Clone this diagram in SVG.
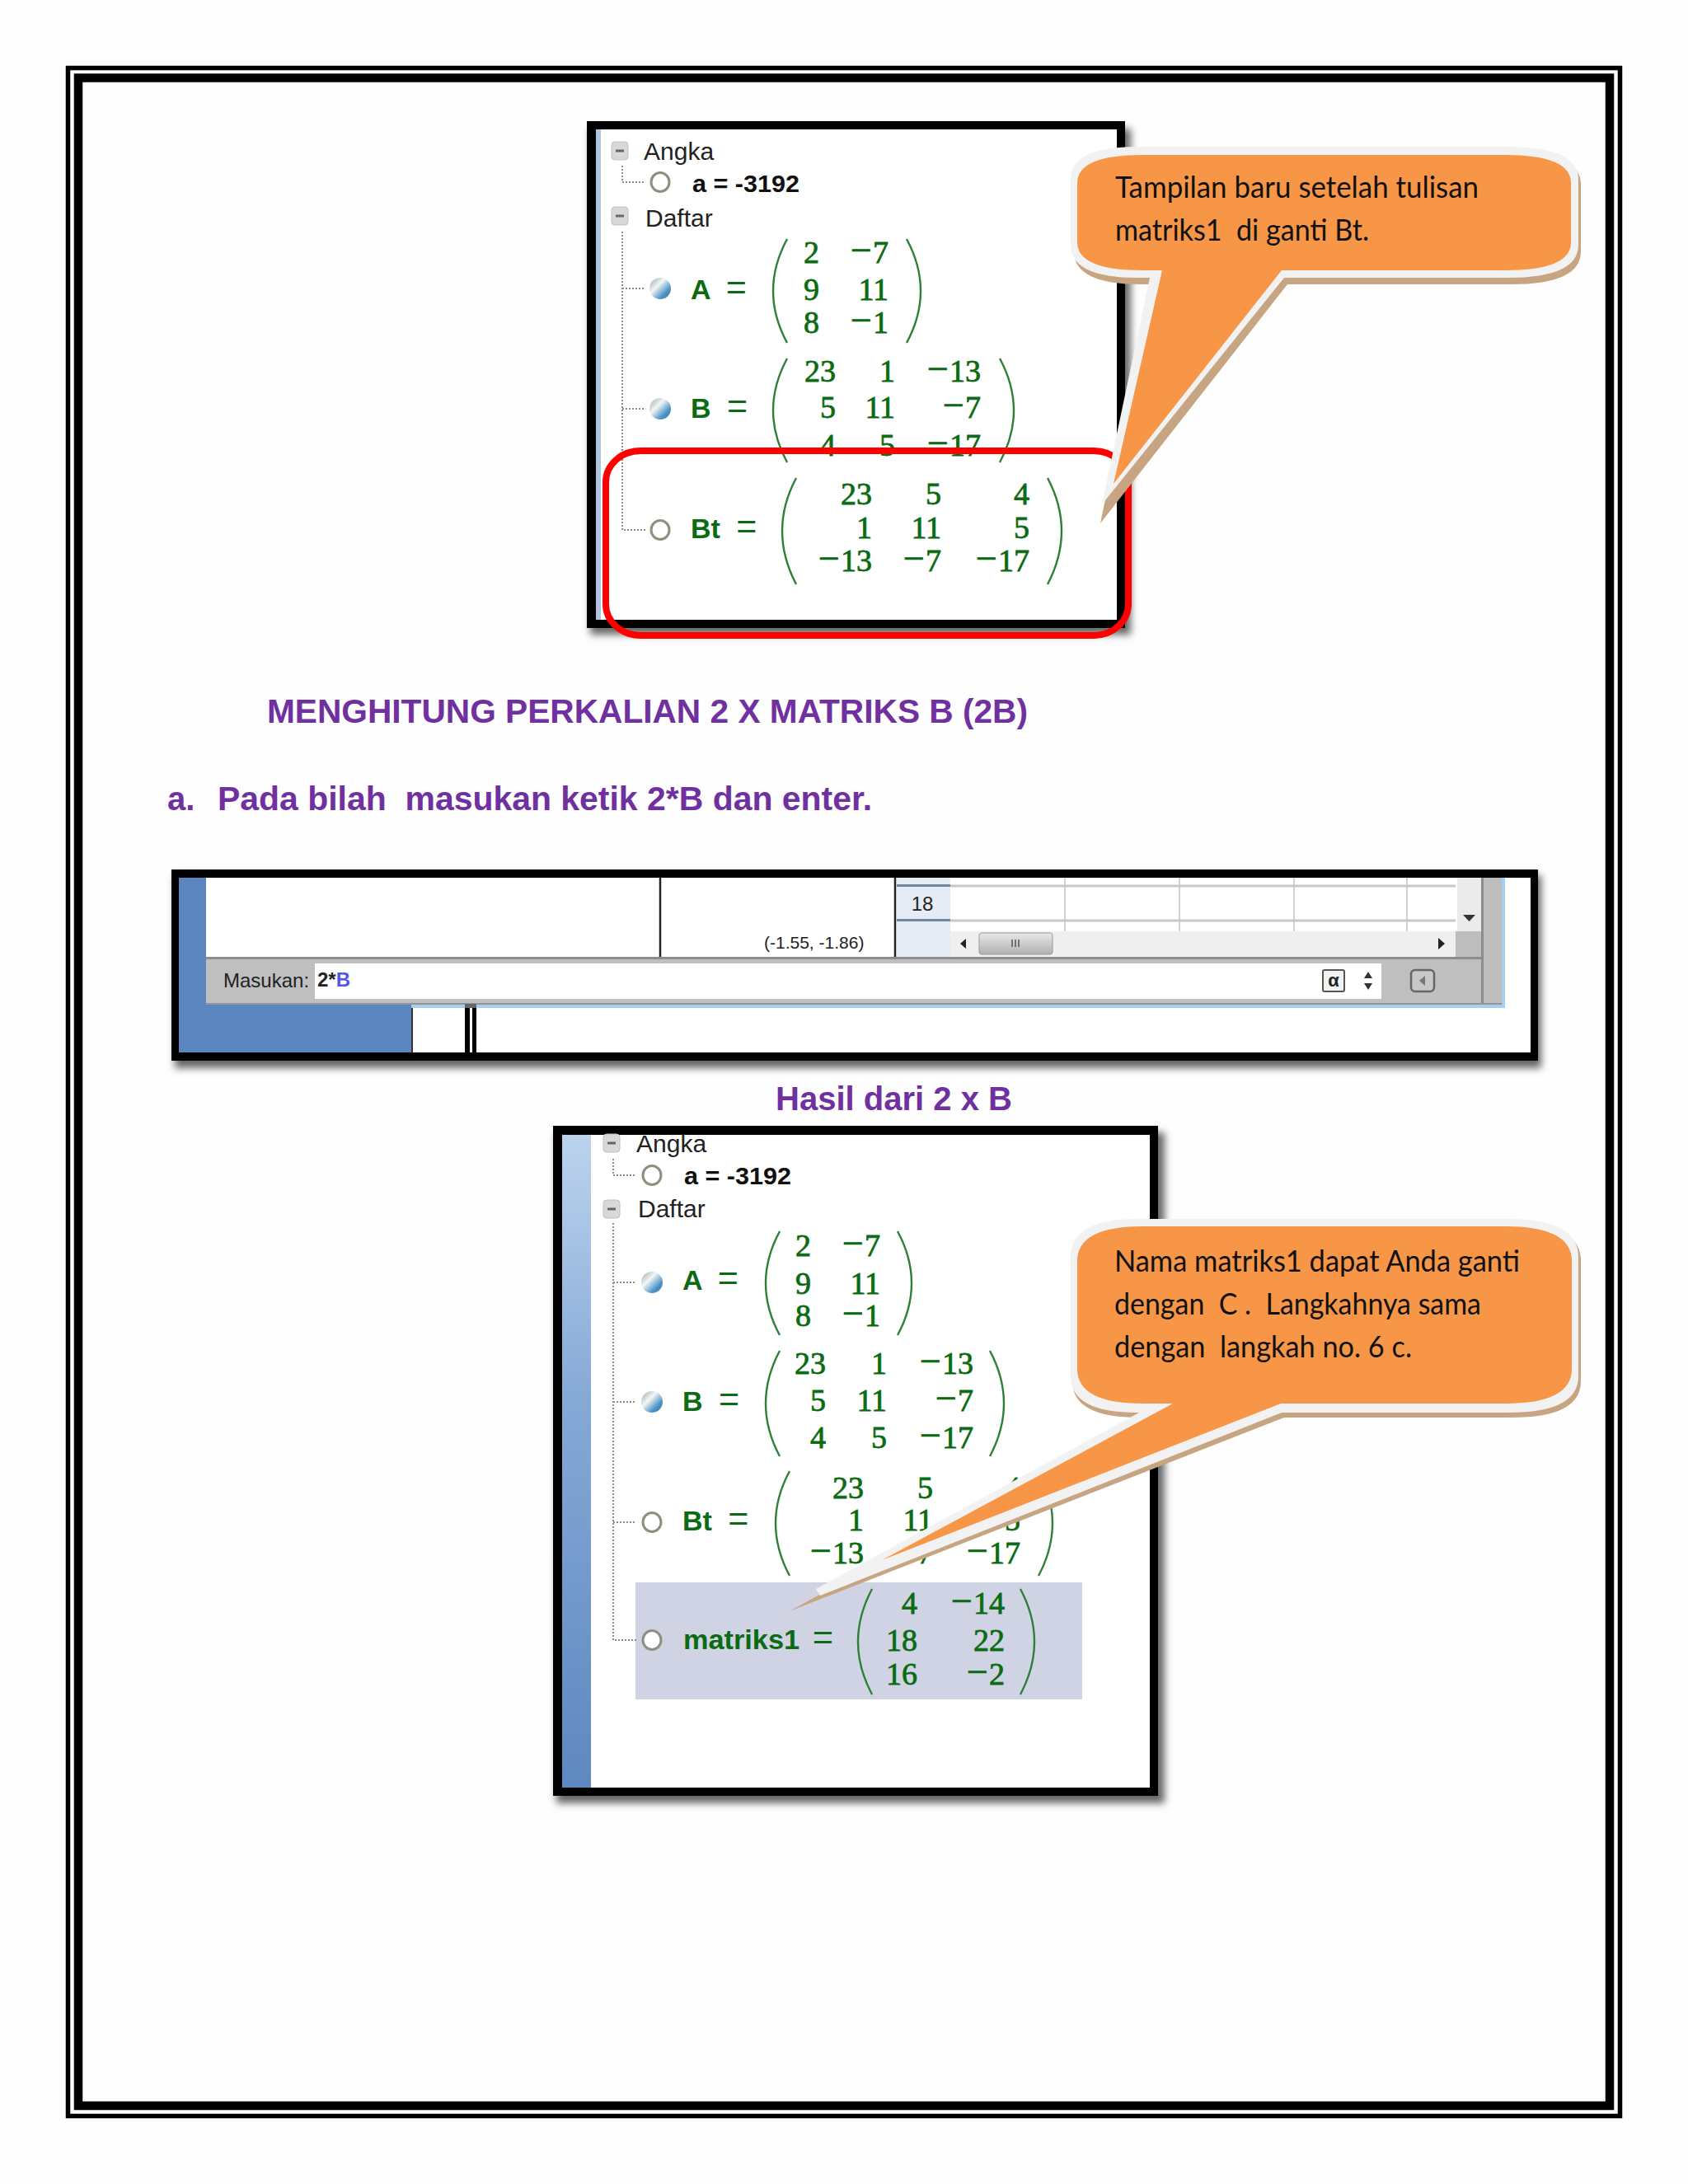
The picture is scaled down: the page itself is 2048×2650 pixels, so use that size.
<svg xmlns="http://www.w3.org/2000/svg" width="2048" height="2650" viewBox="0 0 2048 2650">
<style>
.ui{font-family:"Liberation Sans",Arial,sans-serif;fill:#222}
.tree{font-size:30px}
.val{font-size:30px;font-weight:bold;fill:#111}
.m{font-family:"Liberation Serif","Times New Roman",serif;font-size:38px;fill:#0b6b12;stroke:#0b6b12;stroke-width:.8;text-anchor:end}
.mn{font-size:46px;letter-spacing:1px}
.lab{font-family:"Liberation Sans",Arial,sans-serif;font-size:34px;font-weight:bold;fill:#0b6b12;word-spacing:10px}
.eq{font-weight:normal;font-size:43px}
.p{fill:none;stroke:#2f7f3a;stroke-width:2.4}
.dot{fill:none;stroke:#8a8a8a;stroke-width:2;stroke-dasharray:2 2}
.head{font-family:"Liberation Sans",Arial,sans-serif;font-size:40px;font-weight:bold;fill:#7030a0}
.call{font-family:Lato,"Open Sans",sans-serif;font-size:36px;fill:#111;white-space:pre}
.orange{fill:#f79646}.white{fill:#f2f2f2}.tan{fill:#c8a582}
.frame{fill:none;stroke:#000}
.shadow{fill:#666;filter:url(#blur)}
</style>
<defs>
<filter id="blur" x="-5%" y="-5%" width="110%" height="110%"><feGaussianBlur stdDeviation="5"/></filter>
<linearGradient id="sph" x1="0" y1="0" x2="1" y2="1"><stop offset="0" stop-color="#8fa5a8"/><stop offset=".38" stop-color="#f4f7f5"/><stop offset=".72" stop-color="#4f95c8"/><stop offset="1" stop-color="#3a6f90"/></linearGradient>
<linearGradient id="strip" x1="0" y1="0" x2="0" y2="1"><stop offset="0" stop-color="#bcd3ee"/><stop offset=".4" stop-color="#86a9d6"/><stop offset="1" stop-color="#5f88c0"/></linearGradient>
<linearGradient id="thumb" x1="0" y1="0" x2="0" y2="1"><stop offset="0" stop-color="#e8e8e8"/><stop offset="1" stop-color="#b0b0b0"/></linearGradient>
<g id="box"><rect x="-10" y="-11" width="20" height="22" rx="4" fill="#d8d8d8" stroke="#c0c0c0"/><rect x="-5" y="-1.500" width="10" height="3" fill="#666"/></g>
<ellipse id="ring" cx="0" cy="0" rx="11" ry="11.500" fill="#fff" stroke="#8f8f80" stroke-width="3"/>
<circle id="ball" cx="0" cy="0" r="13" fill="url(#sph)"/>
</defs>

<rect width="2048" height="2650" fill="#fefefe"/>

<g id="page-border">
<rect class="frame" x="82.500" y="82.500" width="1883" height="2485" stroke-width="5.500"/>
<rect class="frame" x="95" y="94.500" width="1858" height="2460.500" stroke-width="10.500"/>
</g>

<g id="panel-1">
<rect class="shadow" x="716" y="156" width="656" height="614"/>
<rect x="712" y="147" width="653" height="615" fill="#000"/>
<rect x="723" y="157" width="632" height="595" fill="#fff"/>
<rect x="723" y="157" width="6" height="595" fill="#aec6e2"/>
<use href="#box" x="752" y="183"/><use href="#box" x="752" y="262"/>
<text class="ui tree" x="781" y="194">Angka</text>
<text class="ui val" x="840" y="233" textLength="130" lengthAdjust="spacingAndGlyphs">a = -3192</text>
<text class="ui tree" x="783" y="275">Daftar</text>
<path class="dot" d="M755 201V221H783M755 281V643H783M755 350H783M755 496H783"/>
<use href="#ring" x="801" y="221"/><use href="#ball" x="801" y="350"/><use href="#ball" x="801" y="496"/><use href="#ring" x="801" y="643"/>
<text class="lab" x="838" y="363">A <tspan class="eq">=</tspan></text>
<path class="p" d="M955 290Q921 353 955 416M1100 290Q1134 353 1100 416"/>
<text class="m"><tspan x="994" y="319">2</tspan><tspan x="1078" y="319"><tspan class="mn">−</tspan>7</tspan><tspan x="994" y="364">9</tspan><tspan x="1078" y="364">11</tspan><tspan x="994" y="404">8</tspan><tspan x="1078" y="404"><tspan class="mn">−</tspan>1</tspan></text>
<text class="lab" x="838" y="507">B <tspan class="eq">=</tspan></text>
<path class="p" d="M955 435Q921 498 955 561M1213 435Q1247 498 1213 561"/>
<text class="m"><tspan x="1014" y="463">23</tspan><tspan x="1086" y="463">1</tspan><tspan x="1190" y="463"><tspan class="mn">−</tspan>13</tspan><tspan x="1014" y="507">5</tspan><tspan x="1086" y="507">11</tspan><tspan x="1190" y="507"><tspan class="mn">−</tspan>7</tspan><tspan x="1014" y="553">4</tspan><tspan x="1086" y="553">5</tspan><tspan x="1190" y="553"><tspan class="mn">−</tspan>17</tspan></text>
<text class="lab" x="838" y="653">Bt <tspan class="eq">=</tspan></text>
<path class="p" d="M966 580Q932 644 966 709M1271 580Q1305 644 1271 709"/>
<text class="m"><tspan x="1058" y="612">23</tspan><tspan x="1142" y="612">5</tspan><tspan x="1249" y="612">4</tspan><tspan x="1058" y="653">1</tspan><tspan x="1142" y="653">11</tspan><tspan x="1249" y="653">5</tspan><tspan x="1058" y="693"><tspan class="mn">−</tspan>13</tspan><tspan x="1142" y="693"><tspan class="mn">−</tspan>7</tspan><tspan x="1249" y="693"><tspan class="mn">−</tspan>17</tspan></text>
<rect id="highlight-bt" x="735" y="547" width="634" height="224" rx="42" ry="38" fill="none" stroke="#f00" stroke-width="8"/>
</g>

<g id="callout-1">
<path class="tan" d="M1384 184H1834Q1918 184 1918 224V305Q1918 345 1834 345H1562L1335 635L1395 345H1384Q1303 345 1303 305V224Q1303 184 1384 184Z"/>
<path class="white" d="M1380 178H1830Q1915 178 1915 218V297Q1915 337 1830 337H1558L1337 612L1395 337H1380Q1299 337 1299 297V218Q1299 178 1380 178Z"/>
<path class="orange" d="M1387 188H1826Q1906 188 1906 222V294Q1906 328 1826 328H1555L1351 587L1410 328H1387Q1307 328 1307 294V222Q1307 188 1387 188Z"/>
<text class="call" x="1353" y="240" textLength="441" lengthAdjust="spacingAndGlyphs">Tampilan baru setelah tulisan</text>
<text class="call" x="1353" y="292" textLength="308" lengthAdjust="spacingAndGlyphs">matriks1  di ganti Bt.</text>
</g>

<g id="headings">
<text class="head" x="324" y="877" textLength="923" lengthAdjust="spacingAndGlyphs">MENGHITUNG PERKALIAN 2 X MATRIKS B (2B)</text>
<text class="head" x="203" y="983">a.</text>
<text class="head" x="264" y="983" style="white-space:pre" textLength="794" lengthAdjust="spacingAndGlyphs">Pada bilah  masukan ketik 2*B dan enter.</text>
<text class="head" x="941" y="1347" textLength="287" lengthAdjust="spacingAndGlyphs">Hasil dari 2 x B</text>
</g>

<g id="panel-2">
<rect class="shadow" x="212" y="1062" width="1658" height="234"/>
<rect x="208" y="1055" width="1658" height="232" fill="#000"/>
<rect x="217" y="1065" width="1640" height="212" fill="#fff"/>
<rect x="217" y="1065" width="33" height="153" fill="#5b86c0"/>
<rect x="217" y="1218" width="282" height="59" fill="#5b86c0"/>
<rect x="1822" y="1065" width="4" height="158" fill="#a9cdec"/>
<rect x="1798" y="1065" width="24" height="156" fill="#bdbdbd"/>
<rect x="1768" y="1065" width="30" height="65" fill="#ebebeb"/>
<rect x="1088" y="1065" width="65" height="97" fill="#e6ecf6"/>
<rect x="1088" y="1073" width="65" height="3" fill="#75859c"/><rect x="1088" y="1115" width="65" height="3" fill="#75859c"/>
<path d="M1153 1075H1766M1153 1117H1766" stroke="#c8c8c8" stroke-width="3" fill="none"/>
<path d="M1292 1065V1130M1431 1065V1130M1570 1065V1130M1707 1065V1130" stroke="#c4c4c4" stroke-width="1.500" fill="none"/>
<text class="ui" x="1119" y="1105" font-size="24" text-anchor="middle">18</text>
<rect x="1153" y="1130" width="615" height="32" fill="#efefef"/>
<rect x="1188" y="1132" width="89" height="26" rx="3" fill="url(#thumb)" stroke="#9a9a9a"/>
<path d="M1228 1140V1149M1232 1140V1149M1236 1140V1149" stroke="#555" stroke-width="1.500"/>
<path d="M1172 1139L1165 1145L1172 1151ZM1745 1138L1753 1145L1745 1152Z" fill="#222"/>
<rect x="1766" y="1130" width="32" height="32" fill="#bdbdbd"/>
<path d="M1775 1110H1790L1782.500 1118Z" fill="#333"/>
<path d="M801 1065V1162M1086 1065V1162" stroke="#222" stroke-width="2.500" fill="none"/>
<text class="ui" x="927" y="1151" font-size="21">(-1.55, -1.86)</text>
<rect x="250" y="1162" width="1548" height="56" fill="#bfbfbf"/>
<rect x="250" y="1161" width="1550" height="3" fill="#8d8d8d"/>
<rect x="1797" y="1065" width="3" height="153" fill="#8d8d8d"/>
<text class="ui" x="271" y="1198" font-size="24">Masukan:</text>
<rect x="382" y="1169" width="1294" height="43" fill="#fff"/>
<text class="ui" x="385" y="1197" font-size="24" font-weight="bold" fill="#111">2*<tspan style="fill:#5555ee">B</tspan></text>
<rect x="1605" y="1177" width="26" height="26" rx="2" fill="#f2f2f2" stroke="#555" stroke-width="2"/>
<text class="ui" x="1618" y="1197" font-size="22" text-anchor="middle" font-weight="bold">α</text>
<path d="M1655 1187L1660 1179L1665 1187ZM1655 1193L1660 1201L1665 1193Z" fill="#333"/>
<rect x="1712" y="1177" width="28" height="26" rx="5" fill="#c8c8c8" stroke="#666" stroke-width="2.500"/>
<path d="M1729 1184L1722 1190L1729 1196Z" fill="#777"/>
<rect x="499" y="1219" width="1327" height="4" fill="#a9cdec"/>
<rect x="250" y="1217" width="1572" height="2" fill="#8f959b"/>
<rect x="499" y="1223" width="2" height="54" fill="#333"/>
<rect x="564" y="1218" width="14" height="5" fill="#666"/>
<rect x="564" y="1223" width="6" height="54" fill="#000"/><rect x="573" y="1223" width="5" height="54" fill="#000"/>
</g>

<g id="panel-3">
<rect class="shadow" x="675" y="1374" width="738" height="814"/>
<rect x="671" y="1366" width="734" height="813" fill="#000"/>
<rect x="682" y="1377" width="713" height="792" fill="#fff"/>
<rect x="682" y="1377" width="35" height="792" fill="url(#strip)"/>
<rect x="771" y="1920" width="542" height="142" fill="#d0d3e4"/>
<use href="#box" x="742" y="1387"/><use href="#box" x="742" y="1467"/>
<text class="ui tree" x="772" y="1398">Angka</text>
<text class="ui val" x="830" y="1437" textLength="130" lengthAdjust="spacingAndGlyphs">a = -3192</text>
<text class="ui tree" x="774" y="1477">Daftar</text>
<path class="dot" d="M744 1406V1426H772M744 1484V1990H772M744 1556H772M744 1701H772M744 1847H772"/>
<use href="#ring" x="791" y="1426"/><use href="#ball" x="791" y="1556"/><use href="#ball" x="791" y="1701"/><use href="#ring" x="791" y="1847"/><use href="#ring" x="791" y="1990"/>
<text class="lab" x="828" y="1565">A <tspan class="eq">=</tspan></text>
<path class="p" d="M946 1494Q912 1557 946 1620M1089 1494Q1123 1557 1089 1620"/>
<text class="m"><tspan x="984" y="1524">2</tspan><tspan x="1068" y="1524"><tspan class="mn">−</tspan>7</tspan><tspan x="984" y="1570">9</tspan><tspan x="1068" y="1570">11</tspan><tspan x="984" y="1609">8</tspan><tspan x="1068" y="1609"><tspan class="mn">−</tspan>1</tspan></text>
<text class="lab" x="828" y="1712">B <tspan class="eq">=</tspan></text>
<path class="p" d="M946 1639Q912 1703 946 1767M1201 1639Q1235 1703 1201 1767"/>
<text class="m"><tspan x="1002" y="1667">23</tspan><tspan x="1076" y="1667">1</tspan><tspan x="1181" y="1667"><tspan class="mn">−</tspan>13</tspan><tspan x="1002" y="1712">5</tspan><tspan x="1076" y="1712">11</tspan><tspan x="1181" y="1712"><tspan class="mn">−</tspan>7</tspan><tspan x="1002" y="1757">4</tspan><tspan x="1076" y="1757">5</tspan><tspan x="1181" y="1757"><tspan class="mn">−</tspan>17</tspan></text>
<text class="lab" x="828" y="1857">Bt <tspan class="eq">=</tspan></text>
<path class="p" d="M958 1785Q924 1848 958 1912M1260 1785Q1294 1848 1260 1912"/>
<text class="m"><tspan x="1048" y="1818">23</tspan><tspan x="1132" y="1818">5</tspan><tspan x="1238" y="1818">4</tspan><tspan x="1048" y="1857">1</tspan><tspan x="1132" y="1857">11</tspan><tspan x="1238" y="1857">5</tspan><tspan x="1048" y="1897"><tspan class="mn">−</tspan>13</tspan><tspan x="1132" y="1897"><tspan class="mn">−</tspan>7</tspan><tspan x="1238" y="1897"><tspan class="mn">−</tspan>17</tspan></text>
<text class="lab" x="829" y="2001" style="word-spacing:6px" textLength="182" lengthAdjust="spacingAndGlyphs">matriks1 <tspan class="eq">=</tspan></text>
<path class="p" d="M1058 1928Q1024 1992 1058 2056M1238 1928Q1272 1992 1238 2056"/>
<text class="m"><tspan x="1113" y="1958">4</tspan><tspan x="1219" y="1958"><tspan class="mn">−</tspan>14</tspan><tspan x="1113" y="2003">18</tspan><tspan x="1219" y="2003">22</tspan><tspan x="1113" y="2044">16</tspan><tspan x="1219" y="2044"><tspan class="mn">−</tspan>2</tspan></text>
</g>

<g id="callout-2">
<path class="tan" d="M1384 1484H1834Q1918 1484 1918 1530V1676Q1918 1720 1834 1720H1558L958 1955L1382 1720Q1301 1720 1301 1676V1530Q1301 1484 1384 1484Z"/>
<path class="white" d="M1380 1479H1830Q1915 1479 1915 1525V1670Q1915 1714 1830 1714H1555L995 1936L990 1928L1382 1714H1380Q1299 1714 1299 1670V1525Q1299 1479 1380 1479Z"/>
<path class="orange" d="M1387 1488H1826Q1907 1488 1907 1530V1661Q1907 1703 1826 1703H1554L1070 1893L1423 1703H1387Q1307 1703 1307 1661V1530Q1307 1488 1387 1488Z"/>
<text class="call" x="1352" y="1543" textLength="492" lengthAdjust="spacingAndGlyphs">Nama matriks1 dapat Anda ganti</text>
<text class="call" x="1352" y="1595" textLength="445" lengthAdjust="spacingAndGlyphs">dengan  C .  Langkahnya sama</text>
<text class="call" x="1352" y="1647" textLength="361" lengthAdjust="spacingAndGlyphs">dengan  langkah no. 6 c.</text>
</g>
</svg>
